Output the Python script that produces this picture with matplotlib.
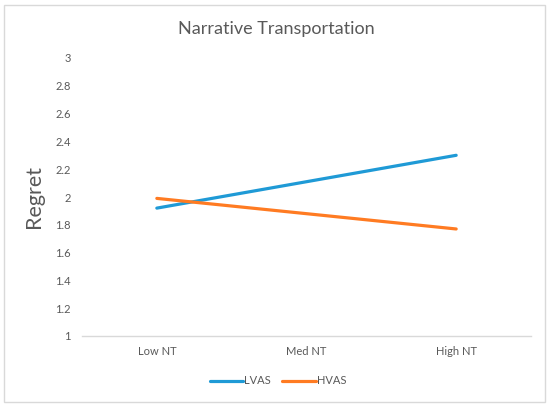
import matplotlib
matplotlib.use('Agg')
import matplotlib.pyplot as plt
from matplotlib.patches import Rectangle

plt.rcParams['font.family'] = ['Lato', 'DejaVu Sans']

categories = ['Low NT', 'Med NT', 'High NT']
lvas = [1.92, 2.11, 2.30]
hvas = [1.99, 1.88, 1.77]
yticks = [1, 1.2, 1.4, 1.6, 1.8, 2, 2.2, 2.4, 2.6, 2.8, 3]
ytick_labels = ['1', '1.2', '1.4', '1.6', '1.8', '2', '2.2', '2.4', '2.6', '2.8', '3']

text_gray = '#595959'
blue = '#1f9ad6'
orange = '#ff7b22'

fig = plt.figure(figsize=(5.5, 4.08), dpi=100)
fig.patches.append(Rectangle((4 / 550, 1 - 402 / 408), 541 / 550, 397 / 408,
                             transform=fig.transFigure, fill=False,
                             edgecolor='#d9d9d9', linewidth=1.0))

ax = fig.add_axes([82 / 550, 1 - 336 / 408, 449 / 550, 278 / 408])
x = range(len(categories))
ax.plot(x, lvas, color=blue, linewidth=2.3, label='LVAS', solid_capstyle='round')
ax.plot(x, hvas, color=orange, linewidth=2.3, label='HVAS', solid_capstyle='round')

ax.set_xlim(-0.5, 2.5)
ax.set_ylim(1, 3)
ax.set_xticks(list(x))
ax.set_xticklabels(categories, color=text_gray, fontsize=8)
ax.set_yticks(yticks)
ax.set_yticklabels(ytick_labels, color=text_gray, fontsize=8)
ax.tick_params(length=0, pad=8)
ax.tick_params(axis='x', pad=7)

for s in ['top', 'right', 'left']:
    ax.spines[s].set_visible(False)
ax.spines['bottom'].set_color('#d9d9d9')
ax.spines['bottom'].set_linewidth(1.0)

ax.set_ylabel('Regret', fontsize=15.5, color=text_gray, labelpad=8)
fig.text(276 / 550, 1 - 29 / 408, 'Narrative Transportation', fontsize=13,
         color=text_gray, ha='center', va='center')

fig.legend(loc='center', bbox_to_anchor=(278 / 550, 1 - 381 / 408), ncol=2,
           frameon=False, fontsize=8, handlelength=3.0, handletextpad=0.1,
           columnspacing=1.0, labelcolor=text_gray)

fig.savefig('out.png', dpi=100)
